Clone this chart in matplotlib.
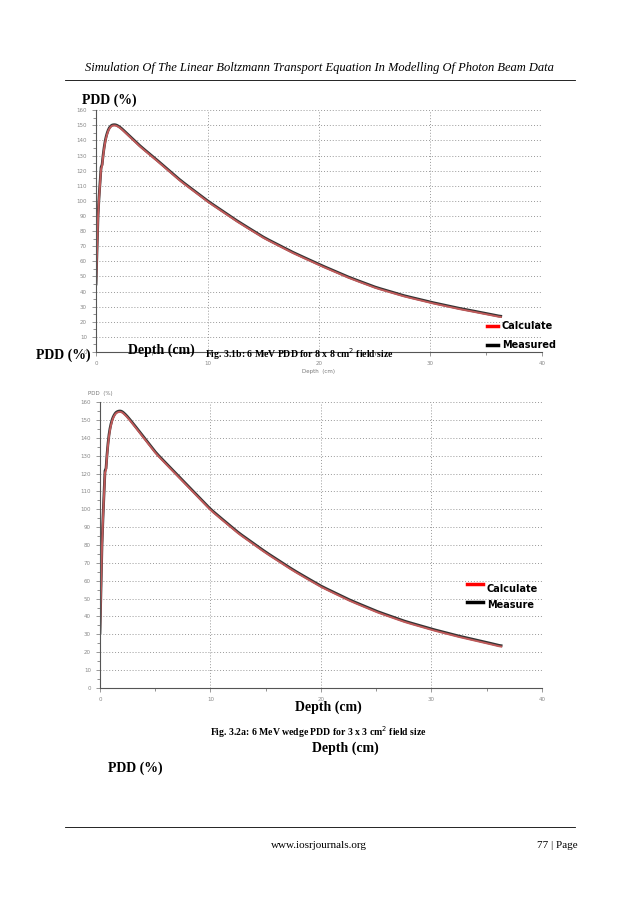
import matplotlib
matplotlib.use("Agg")
import matplotlib.pyplot as plt
import numpy as np

depth1 = [0, 0.2, 0.5, 0.8, 1.1, 1.5, 2.0, 3.0, 4.0, 5.0, 7.5, 10, 12.5, 15, 17.5, 20, 22.5, 25, 27.5, 30, 32.5, 35, 36.3]
meas1 = [45, 95, 127, 142, 149, 151, 150, 143, 136, 130, 114, 100, 87.5, 76, 66.5, 58, 50, 43, 37.5, 33, 29, 25.5, 23.5]
calc1 = [44, 94, 126, 141, 148.5, 150.5, 149.5, 142.5, 135.5, 129.5, 113.5, 99.5, 87, 75.5, 66, 57.5, 49.5, 42.5, 37, 32.5, 28.5, 25, 23]

depth2 = [0, 0.2, 0.5, 0.8, 1.1, 1.7, 2.2, 3.0, 4.0, 5.0, 7.5, 10, 12.5, 15, 17.5, 20, 22.5, 25, 27.5, 30, 32.5, 35, 36.3]
meas2 = [31, 85, 128, 145, 152, 156, 154, 148, 140, 132, 116, 100, 87, 76, 66, 57, 49.5, 43, 37.5, 33, 29, 25.5, 23.5]
calc2 = [30, 84, 127, 144, 151.5, 155.5, 153.5, 147.5, 139.5, 131.5, 115.5, 99.5, 86.5, 75.5, 65.5, 56.5, 49, 42.5, 37, 32.5, 28.5, 25, 23]

xticks = [0, 10, 20, 30, 40]
yticks = list(range(0, 161, 10))

fig = plt.figure(figsize=(6.38, 9.02), dpi=100)
serif = "Liberation Serif"

def style(ax):
    ax.set_xlim(0, 40)
    ax.set_ylim(0, 160)
    ax.set_xticks(xticks)
    ax.set_yticks(yticks)
    ax.set_xticks(np.arange(0, 41, 5), minor=True)
    ax.set_yticks(np.arange(0, 161, 5), minor=True)
    ax.tick_params(labelsize=4, colors="#888888", length=3, width=0.6)
    ax.tick_params(which="minor", length=2, width=0.5, colors="#666666")
    ax.grid(True, which="major", linestyle=(0, (1, 2)), color="#999999", linewidth=0.7)
    for s in ["top", "right"]:
        ax.spines[s].set_visible(False)
    for s in ["left", "bottom"]:
        ax.spines[s].set_color("#555555")

def smooth(x, y):
    xs = np.linspace(min(x), max(x), 400)
    ys = np.interp(xs, x, y)
    k = 9
    pad = np.pad(ys, k // 2, mode="edge")
    ys2 = np.convolve(pad, np.ones(k) / k, mode="valid")
    ys2[:6] = ys[:6]
    return xs, ys2

ax1 = fig.add_axes([0.1505, 0.6098, 0.699, 0.268])
style(ax1)
ax1.plot(*smooth(depth1, meas1), color="#333333", lw=2.0)
ax1.plot(*smooth(depth1, calc1), color="#c05a5a", lw=1.4)
ax1.set_xlabel("Depth  (cm)", fontsize=4, color="#777777", labelpad=2)
ax1.plot([35.1, 36.1], [17, 17], color="red", lw=2.5)
ax1.text(36.4, 17, "Calculate", fontsize=7, va="center", fontweight="bold")
ax1.plot([35.1, 36.1], [4.5, 4.5], color="black", lw=2.5, clip_on=False)
ax1.text(36.4, 4.5, "Measured", fontsize=7, va="center", fontweight="bold")

ax2 = fig.add_axes([0.1567, 0.2373, 0.6928, 0.317])
style(ax2)
ax2.plot(*smooth(depth2, meas2), color="#333333", lw=2.0)
ax2.plot(*smooth(depth2, calc2), color="#c05a5a", lw=1.4)
ax2.plot([33.2, 34.7], [58, 58], color="red", lw=2.5)
ax2.text(35.0, 55.5, "Calculate", fontsize=7, va="center", fontweight="bold")
ax2.plot([33.2, 34.7], [48, 48], color="black", lw=2.5)
ax2.text(35.0, 46.5, "Measure", fontsize=7, va="center", fontweight="bold")

def ft(x, y, s, **kw):
    fig.text(x / 638, 1 - y / 902, s, **kw)

ft(319, 68, "Simulation Of The Linear Boltzmann Transport Equation In Modelling Of Photon Beam Data",
   ha="center", va="center", family=serif, style="italic", fontsize=9)
fig.add_artist(plt.Line2D([65 / 638, 575 / 638], [1 - 80 / 902] * 2, color="black", lw=0.6))
fig.add_artist(plt.Line2D([65 / 638, 575 / 638], [1 - 827 / 902] * 2, color="black", lw=0.6))
ft(319, 845, "www.iosrjournals.org", ha="center", va="center", family=serif, fontsize=8)
ft(557, 845, "77 | Page", ha="center", va="center", family=serif, fontsize=8)

ft(82, 100, "PDD (%)", va="center", family=serif, fontweight="bold", fontsize=10)
ft(36, 355, "PDD (%)", va="center", family=serif, fontweight="bold", fontsize=10)
ft(128, 350, "Depth (cm)", va="center", family=serif, fontweight="bold", fontsize=10)
ft(205, 354, "Fig. 3.1b: 6 MeV PDD for 8 x 8 cm$^2$ field size", va="center", family=serif,
   fontweight="bold", fontsize=7)
ft(88, 394, "PDD  (%)", va="center", fontsize=4, color="#777777")
ft(328, 707, "Depth (cm)", ha="center", va="center", family=serif, fontweight="bold", fontsize=10)
ft(318, 732, "Fig. 3.2a: 6 MeV wedge PDD for 3 x 3 cm$^2$ field size", ha="center", va="center",
   family=serif, fontweight="bold", fontsize=7)
ft(345, 748, "Depth (cm)", ha="center", va="center", family=serif, fontweight="bold", fontsize=10)
ft(108, 768, "PDD (%)", va="center", family=serif, fontweight="bold", fontsize=10)

fig.savefig("out.png", dpi=100)
